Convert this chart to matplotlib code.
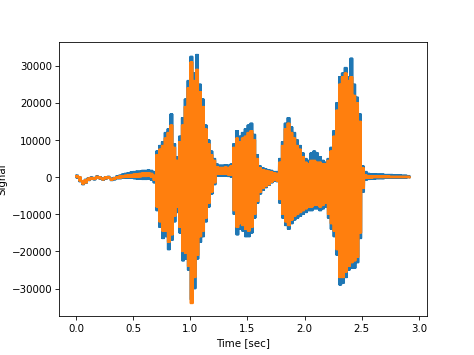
import numpy as np
import matplotlib
matplotlib.use("Agg")
import matplotlib.pyplot as plt

# waveform envelope, one (max, min) pair every 25 ms, in thousands
step = 0.025
blue_hi = [0.5, 0.0, -1.0, -0.6, -0.2, 0.0, -0.1, 0.3, 0.1, -0.2, 0.1, 0.2, -0.3, -0.1,
           0.3, 0.5, 0.8, 1.0, 1.2, 1.4, 1.5, 1.6, 1.6, 1.8, 1.8, 1.9, 1.8, 1.5,
           7.0, 8.5, 9.5, 12.0, 13.0, 17.0, 9.0, 5.5,
           11.0, 16.0, 21.0, 26.0, 32.5, 28.0, 33.0, 25.0, 21.0, 14.0, 10.0, 7.0, 5.0,
           3.5, 3.2, 3.2, 3.3, 3.2, 3.5,
           9.0, 12.5, 11.0, 12.0, 13.0, 14.0, 14.5, 11.5, 6.0, 3.0, 2.5, 2.2, 2.0, 1.8,
           1.5, 1.5, 5.0, 9.5, 14.5, 16.0, 13.5, 12.0, 10.0,
           8.5, 6.5, 5.0, 4.5, 6.5, 7.0, 6.5, 5.5, 4.5, 4.0, 5.0, 8.0,
           12.5, 20.0, 27.0, 28.0, 29.5, 27.0, 32.0, 25.0, 21.5, 17.0, 3.0, 1.5, 1.0,
           0.9, 0.9, 0.8, 0.8, 0.8, 0.7, 0.7, 0.7, 0.6, 0.6, 0.6, 0.5, 0.5, 0.4]
blue_lo = [-0.2, -1.2, -2.0, -1.6, -0.9, -0.6, -0.7, -0.3, -0.5, -0.8, -0.5, -0.3, -0.9, -0.7,
           -0.4, -0.4, -0.3, -0.3, -0.2, -0.3, -0.4, -0.5, -0.5, -0.6, -0.6, -0.5, -0.8, -1.5,
           -9.0, -13.5, -16.5, -16.0, -19.5, -17.0, -12.0, -9.5,
           -15.0, -22.5, -22.0, -25.0, -33.0, -30.0, -22.0, -17.5, -16.0, -12.0, -8.0, -4.5, -2.0,
           0.3, 0.3, 0.3, 0.3, 0.2, 0.0,
           -10.0, -15.5, -14.0, -14.5, -16.0, -16.0, -15.0, -11.0, -7.0, -4.5, -3.5, -2.8, -2.2, -1.5,
           -1.0, -1.2, -7.0, -11.0, -13.0, -14.0, -12.5, -11.5, -11.0,
           -10.5, -10.0, -9.5, -9.0, -9.0, -8.5, -8.5, -9.0, -8.5, -8.0, -11.0, -14.0,
           -16.0, -21.0, -29.0, -28.5, -27.0, -25.0, -24.5, -24.5, -23.0, -16.5, -4.0, -0.8, -0.6,
           -0.5, -0.5, -0.4, -0.4, -0.4, -0.3, -0.3, -0.3, -0.3, -0.2, -0.2, -0.2, -0.2, -0.1]
orange_hi = [0.4, 0.0, -1.0, -0.7, -0.3, -0.1, -0.2, 0.2, 0.0, -0.3, 0.0, 0.1, -0.4, -0.2,
             0.1, 0.3, 0.4, 0.5, 0.6, 0.7, 0.8, 0.9, 1.0, 1.1, 1.1, 1.2, 1.0, 0.5,
             6.0, 7.5, 8.5, 10.5, 12.0, 14.0, 8.0, 4.5,
             9.5, 14.0, 19.0, 24.0, 31.0, 26.0, 29.0, 23.0, 19.0, 13.0, 9.0, 6.0, 4.5,
             2.8, 2.6, 2.6, 2.7, 2.6, 3.0,
             8.0, 10.5, 9.5, 10.5, 11.0, 12.0, 12.5, 10.0, 5.0, 2.5, 2.0, 1.8, 1.6, 1.4,
             1.2, 1.0, 4.0, 8.5, 13.0, 14.5, 12.0, 10.5, 8.5,
             7.5, 5.5, 4.0, 3.5, 4.5, 4.5, 4.0, 4.0, 3.5, 3.5, 4.5, 7.0,
             11.0, 18.0, 25.0, 27.0, 28.0, 26.0, 27.0, 22.0, 20.0, 15.0, 2.5, 0.6, 0.4,
             0.4, 0.3, 0.3, 0.3, 0.3, 0.3, 0.3, 0.2, 0.2, 0.2, 0.2, 0.2, 0.2, 0.2]
orange_lo = [-0.1, -1.0, -1.8, -1.5, -0.8, -0.5, -0.6, -0.2, -0.4, -0.7, -0.4, -0.2, -0.8, -0.6,
             -0.3, -0.2, -0.1, 0.0, 0.0, 0.0, 0.0, 0.0, 0.1, 0.2, 0.2, 0.3, 0.0, -0.8,
             -8.0, -12.0, -14.5, -14.5, -17.5, -15.5, -10.5, -8.0,
             -13.5, -20.0, -20.5, -24.0, -34.0, -27.0, -21.0, -16.0, -14.5, -11.0, -7.0, -4.0, -1.5,
             0.8, 0.8, 0.8, 0.8, 0.6, 0.5,
             -9.0, -13.5, -12.5, -13.0, -14.0, -14.5, -13.5, -10.0, -6.5, -4.0, -3.0, -2.5, -2.0, -1.3,
             -0.8, -1.0, -6.0, -10.0, -12.0, -13.0, -11.5, -10.5, -10.0,
             -9.5, -9.0, -8.5, -8.0, -8.0, -7.5, -7.5, -8.0, -7.5, -7.0, -10.0, -12.5,
             -14.5, -19.5, -27.0, -27.0, -25.5, -24.0, -23.0, -22.5, -21.5, -15.0, -3.0, -0.3, -0.2,
             -0.2, -0.1, -0.1, -0.1, -0.1, -0.1, -0.1, -0.1, -0.1, -0.1, -0.1, -0.1, -0.1, -0.1]

# each 25 ms bin swings between its max and min several times, like the dense audio trace
swings = 5
def trace(hi, lo):
    pairs = np.column_stack([hi, lo])
    return np.tile(pairs, (1, swings)).ravel() * 1000

raw = trace(blue_hi, blue_lo)
filtered = trace(orange_hi, orange_lo)
t_pts = np.arange(len(raw)) * step / (2 * swings)

fig = plt.figure(figsize=(6.4, 4.8), dpi=74.07)
plt.plot(t_pts, raw)
plt.plot(t_pts, filtered)
plt.xlabel("Time [sec]")
plt.ylabel("Signal")
plt.savefig("out.png")
